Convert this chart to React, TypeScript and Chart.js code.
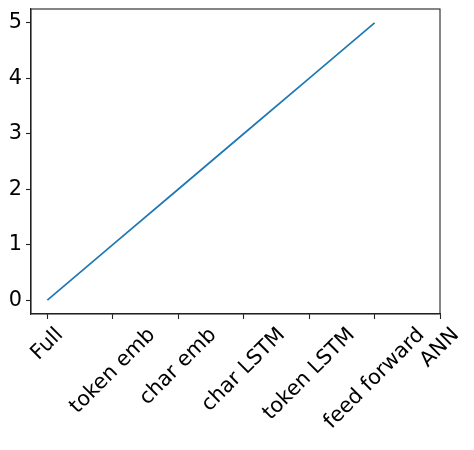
import { useEffect, useRef } from "react";
import { Chart, registerables, Plugin } from "chart.js";

Chart.register(...registerables);

const xLabels = [
  "Full",
  "token emb",
  "char emb",
  "char LSTM",
  "token LSTM",
  "feed forward",
  "ANN",
];
const scoreValues = [0, 1, 2, 3, 4, 5];
const yTicks = [0, 1, 2, 3, 4, 5];

const FONT = "DejaVu Sans";
const FONT_SIZE = 20.8;

// box around the plot area (matplotlib spines)
const framePlugin: Plugin = {
  id: "frame",
  afterDraw(chart) {
    const { ctx, chartArea: a } = chart;
    ctx.save();
    ctx.strokeStyle = "#222";
    ctx.lineWidth = 1.1;
    ctx.strokeRect(a.left, a.top, a.right - a.left, a.bottom - a.top);
    ctx.restore();
  },
};

// rotated x labels, centred under the tick like matplotlib's rotation=45
const xLabelPlugin: Plugin = {
  id: "xlabels",
  afterDraw(chart) {
    const { ctx, chartArea: a } = chart;
    const x = chart.scales.x;
    ctx.save();
    ctx.font = `${FONT_SIZE}px "${FONT}"`;
    ctx.fillStyle = "#000";
    ctx.textAlign = "center";
    ctx.textBaseline = "middle";
    const h = 22;
    const top = a.bottom + 5 + 5;
    xLabels.forEach((label, i) => {
      const w = ctx.measureText(label).width;
      const box = (w + h) * Math.SQRT1_2;
      const cx = x.getPixelForValue(i);
      const cy = top + box / 2;
      ctx.save();
      ctx.translate(cx, cy);
      ctx.rotate(-Math.PI / 4);
      ctx.fillText(label, 0, 0);
      ctx.restore();
    });
    ctx.restore();
  },
};

export default function App() {
  const canvasRef = useRef<HTMLCanvasElement>(null);

  useEffect(() => {
    document.body.style.margin = "0";
    const el = canvasRef.current;
    if (!el) return;

    const chart = new Chart(el, {
      type: "line",
      data: {
        datasets: [
          {
            data: scoreValues.map((y, i) => ({ x: i, y })),
            borderColor: "#1f77b4",
            borderWidth: 1.7,
            pointRadius: 0,
            tension: 0,
          },
        ],
      },
      options: {
        animation: false,
        responsive: true,
        maintainAspectRatio: false,
        layout: { padding: { left: 0, right: 34, top: 9, bottom: 0 } },
        plugins: {
          legend: { display: false },
          tooltip: { enabled: false },
        },
        scales: {
          x: {
            type: "linear",
            min: -0.25,
            max: 6,
            afterBuildTicks: (s) => {
              s.ticks = xLabels.map((_, i) => ({ value: i }));
            },
            afterFit: (s) => {
              s.height = 136;
              s.paddingLeft = 0;
              s.paddingRight = 0;
            },
            ticks: { display: false },
            grid: {
              drawOnChartArea: false,
              drawTicks: true,
              tickLength: 5,
              tickColor: "#222",
              tickWidth: 1.1,
            },
            border: { color: "#222", width: 1.1 },
          },
          y: {
            type: "linear",
            min: -0.25,
            max: 5.25,
            afterBuildTicks: (s) => {
              s.ticks = yTicks.map((v) => ({ value: v }));
            },
            afterFit: (s) => {
              s.width = 31;
              s.paddingTop = 0;
              s.paddingBottom = 0;
            },
            ticks: {
              color: "#000",
              font: { family: FONT, size: FONT_SIZE },
              padding: 4,
            },
            grid: {
              drawOnChartArea: false,
              drawTicks: true,
              tickLength: 5,
              tickColor: "#222",
              tickWidth: 1.1,
            },
            border: { color: "#222", width: 1.1 },
          },
        },
      },
      plugins: [framePlugin, xLabelPlugin],
    });

    return () => {
      chart.destroy();
    };
  }, []);

  return (
    <div style={{ position: "relative", width: 474, height: 450 }}>
      <canvas ref={canvasRef} />
    </div>
  );
}
